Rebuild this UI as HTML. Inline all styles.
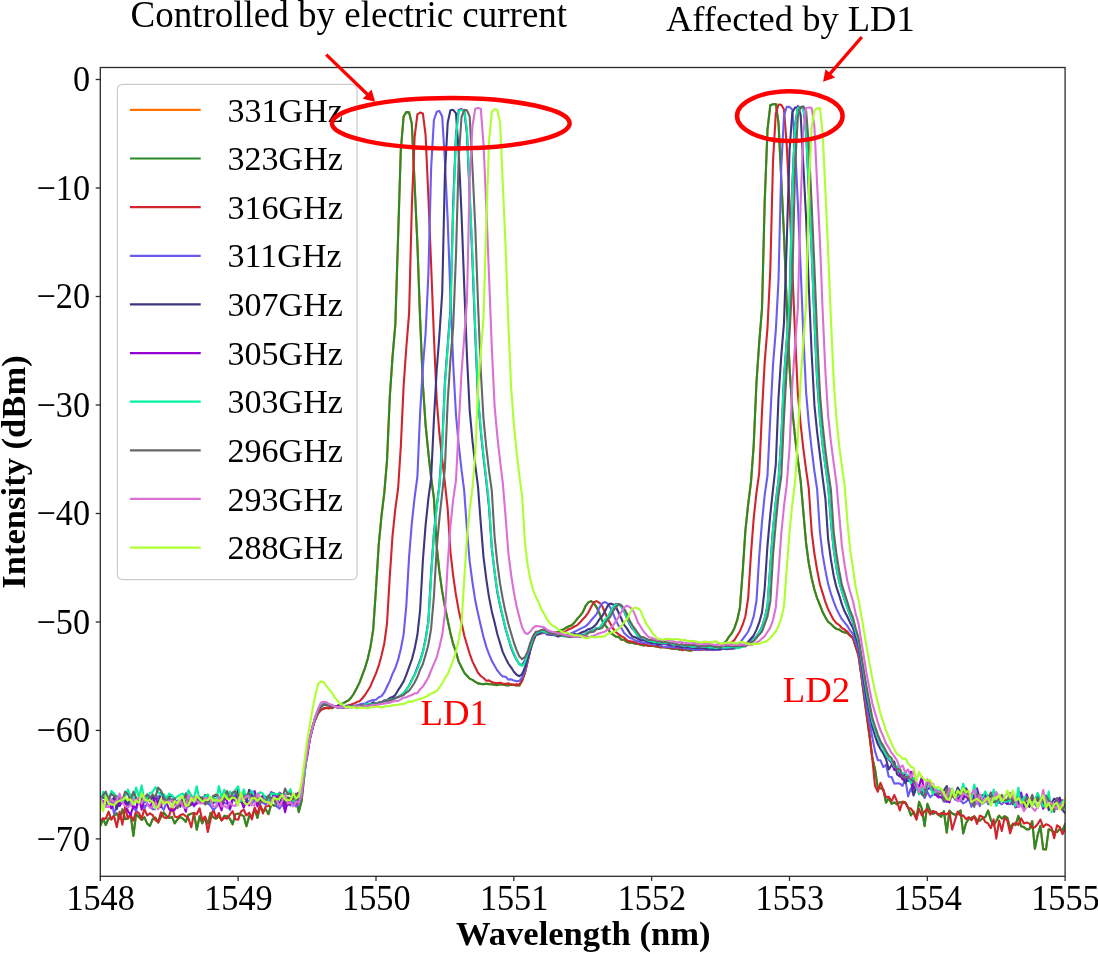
<!DOCTYPE html>
<html lang="en"><head><meta charset="utf-8"><title>Optical spectra of LD1 and LD2</title>
<style>
html,body{margin:0;padding:0;background:#fff;}
svg{display:block;font-family:"Liberation Serif","Times New Roman",serif;}
.tk{font-size:34.2px;fill:#000;}
.lg{font-size:34px;fill:#000;}
.al{font-size:34.6px;font-weight:bold;fill:#000;}
.an{font-size:37.0px;fill:#000;}
.rd{font-size:36.7px;fill:#ff0000;}
.cv{fill:none;stroke-width:2.1;stroke-linejoin:round;stroke-linecap:butt;}
</style></head><body>
<svg width="1098" height="954" viewBox="0 0 1098 954">
<rect x="0" y="0" width="1098" height="954" fill="#ffffff"/>
<defs><clipPath id="ax"><rect x="100.3" y="67.5" width="964.8" height="808.8"/></clipPath></defs>

<g clip-path="url(#ax)">
<path class="cv" stroke="#ff7200" stroke-width="1" d="M100.3,826.2 L103.1,818.8 L105.8,825.0 L108.6,818.3 L111.3,818.8 L114.1,815.4 L116.8,813.4 L119.6,818.7 L122.4,809.2 L125.1,819.2 L127.9,818.4 L130.6,814.4 L133.4,835.8 L136.1,813.8 L138.9,817.1 L141.7,819.9 L144.4,817.2 L147.2,823.6 L149.9,825.9 L152.7,819.0 L155.4,817.6 L158.2,822.6 L161.0,816.9 L163.7,812.3 L166.5,816.0 L169.2,817.9 L172.0,817.1 L174.7,823.3 L177.5,819.4 L180.3,816.8 L183.0,818.8 L185.8,821.8 L188.5,814.7 L191.3,813.8 L194.0,813.1 L196.8,829.8 L199.6,816.1 L202.3,823.3 L205.1,817.4 L207.8,823.7 L210.6,812.9 L213.3,817.2 L216.1,818.7 L218.9,816.5 L221.6,820.2 L224.4,815.9 L227.1,816.4 L229.9,818.8 L232.6,824.3 L235.4,814.3 L238.2,813.6 L240.9,814.8 L243.7,816.1 L246.4,826.3 L249.2,816.1 L251.9,816.9 L254.7,808.9 L257.4,817.9 L260.2,806.0 L263.0,811.2 L265.7,809.2 L268.5,814.2 L271.2,804.3 L274.0,805.5 L276.7,806.2 L279.5,806.6 L282.3,802.0 L285.0,808.6 L287.8,797.5 L290.5,798.2 L293.3,801.5 L296.0,798.2 L298.8,812.1 L301.6,800.9 L304.3,775.9 L307.1,752.4 L309.8,739.4 L312.6,727.2 L315.3,719.7 L318.1,713.4 L320.9,710.0 L323.6,708.4 L326.4,707.8 L329.1,707.8 L331.9,708.2 L334.6,706.8 L337.4,705.7 L340.2,704.4 L342.9,703.4 L345.7,701.8 L348.4,700.4 L351.2,697.5 L353.9,693.5 L356.7,688.2 L359.5,682.6 L362.2,675.3 L365.0,667.9 L367.7,659.0 L370.5,646.7 L373.2,629.6 L376.0,588.5 L378.8,543.8 L381.5,516.0 L384.3,492.7 L387.0,460.7 L389.8,396.7 L392.5,357.1 L395.3,324.9 L398.1,236.6 L400.8,150.3 L403.6,116.5 L406.3,112.1 L409.1,112.4 L411.8,123.6 L414.6,183.6 L417.4,243.9 L420.1,319.0 L422.9,385.0 L425.6,425.1 L428.4,453.2 L431.1,477.5 L433.9,498.0 L436.7,545.9 L439.4,571.8 L442.2,591.4 L444.9,606.8 L447.7,620.2 L450.4,632.9 L453.2,644.2 L456.0,652.0 L458.7,661.6 L461.5,667.2 L464.2,672.6 L467.0,675.7 L469.7,678.6 L472.5,679.9 L475.3,681.8 L478.0,683.4 L480.8,683.9 L483.5,684.1 L486.3,683.7 L489.0,684.1 L491.8,684.2 L494.6,684.7 L497.3,685.1 L500.1,684.2 L502.8,684.6 L505.6,685.3 L508.3,685.4 L511.1,684.4 L513.9,684.9 L516.6,685.5 L519.4,685.5 L522.1,680.8 L524.9,672.9 L527.6,661.5 L530.4,649.6 L533.1,641.3 L535.9,634.9 L538.7,634.0 L541.4,632.3 L544.2,632.0 L546.9,632.7 L549.7,632.3 L552.4,633.1 L555.2,632.4 L558.0,632.4 L560.7,630.1 L563.5,629.4 L566.2,627.7 L569.0,626.3 L571.7,625.2 L574.5,622.4 L577.3,618.8 L580.0,615.9 L582.8,612.1 L585.5,606.2 L588.3,602.4 L591.0,601.1 L593.8,603.2 L596.6,607.3 L599.3,613.0 L602.1,620.6 L604.8,624.3 L607.6,628.3 L610.3,632.8 L613.1,634.6 L615.9,636.7 L618.6,636.9 L621.4,639.7 L624.1,639.8 L626.9,642.1 L629.6,642.7 L632.4,642.8 L635.2,643.8 L637.9,643.8 L640.7,644.8 L643.4,645.4 L646.2,645.1 L648.9,646.0 L651.7,645.8 L654.5,646.3 L657.2,646.8 L660.0,647.3 L662.7,647.0 L665.5,647.5 L668.2,648.0 L671.0,648.4 L673.8,649.0 L676.5,648.5 L679.3,649.7 L682.0,648.8 L684.8,649.8 L687.5,650.3 L690.3,650.7 L693.1,649.9 L695.8,649.5 L698.6,649.3 L701.3,649.7 L704.1,649.0 L706.8,649.3 L709.6,648.6 L712.4,649.2 L715.1,649.1 L717.9,647.5 L720.6,646.5 L723.4,643.6 L726.1,641.2 L728.9,636.9 L731.7,633.4 L734.4,628.2 L737.2,620.2 L739.9,607.7 L742.7,571.5 L745.4,530.5 L748.2,504.0 L751.0,481.8 L753.7,445.3 L756.5,382.0 L759.2,342.7 L762.0,308.5 L764.7,201.5 L767.5,129.7 L770.3,105.3 L773.0,104.3 L775.8,104.0 L778.5,122.8 L781.3,179.6 L784.0,235.4 L786.8,305.9 L789.6,368.1 L792.3,410.0 L795.1,437.5 L797.8,459.4 L800.6,480.3 L803.3,511.4 L806.1,543.5 L808.8,563.4 L811.6,578.0 L814.4,589.5 L817.1,598.1 L819.9,605.0 L822.6,611.9 L825.4,617.2 L828.1,621.7 L830.9,624.0 L833.7,626.8 L836.4,628.9 L839.2,629.6 L841.9,631.5 L844.7,632.4 L847.4,632.9 L850.2,635.8 L853.0,638.3 L855.7,646.9 L858.5,655.2 L861.2,674.0 L864.0,696.2 L866.7,715.6 L869.5,736.2 L872.3,757.8 L875.0,769.0 L877.8,788.0 L880.5,788.2 L883.3,789.6 L886.0,802.6 L888.8,798.1 L891.6,803.9 L894.3,802.3 L897.1,804.4 L899.8,802.1 L902.6,802.9 L905.3,802.6 L908.1,807.3 L910.9,815.5 L913.6,811.6 L916.4,818.5 L919.1,801.9 L921.9,808.6 L924.6,826.2 L927.4,803.9 L930.2,810.8 L932.9,813.8 L935.7,812.0 L938.4,814.7 L941.2,816.8 L943.9,811.2 L946.7,832.5 L949.5,810.6 L952.2,813.5 L955.0,814.7 L957.7,813.9 L960.5,810.4 L963.2,833.4 L966.0,823.3 L968.8,818.8 L971.5,817.8 L974.3,816.4 L977.0,819.8 L979.8,820.6 L982.5,818.2 L985.3,817.1 L988.1,810.5 L990.8,819.9 L993.6,825.5 L996.3,821.0 L999.1,815.6 L1001.8,818.6 L1004.6,816.2 L1007.4,818.0 L1010.1,828.1 L1012.9,823.7 L1015.6,825.1 L1018.4,815.9 L1021.1,826.2 L1023.9,827.1 L1026.7,829.5 L1029.4,829.1 L1032.2,821.2 L1034.9,848.8 L1037.7,835.1 L1040.4,825.8 L1043.2,849.3 L1046.0,849.4 L1048.7,829.2 L1051.5,830.3 L1054.2,832.2 L1057.0,831.9 L1059.7,829.1 L1062.5,830.3 L1065.3,823.6 L1068.0,826.0"/>
<path class="cv" stroke="#2a8a2a" d="M100.3,826.2 L103.1,818.8 L105.8,825.0 L108.6,818.3 L111.3,818.8 L114.1,815.4 L116.8,813.4 L119.6,818.7 L122.4,809.2 L125.1,819.2 L127.9,818.4 L130.6,814.4 L133.4,835.8 L136.1,813.8 L138.9,817.1 L141.7,819.9 L144.4,817.2 L147.2,823.6 L149.9,825.9 L152.7,819.0 L155.4,817.6 L158.2,822.6 L161.0,816.9 L163.7,812.3 L166.5,816.0 L169.2,817.9 L172.0,817.1 L174.7,823.3 L177.5,819.4 L180.3,816.8 L183.0,818.8 L185.8,821.8 L188.5,814.7 L191.3,813.8 L194.0,813.1 L196.8,829.8 L199.6,816.1 L202.3,823.3 L205.1,817.4 L207.8,823.7 L210.6,812.9 L213.3,817.2 L216.1,818.7 L218.9,816.5 L221.6,820.2 L224.4,815.9 L227.1,816.4 L229.9,818.8 L232.6,824.3 L235.4,814.3 L238.2,813.6 L240.9,814.8 L243.7,816.1 L246.4,826.3 L249.2,816.1 L251.9,816.9 L254.7,808.9 L257.4,817.9 L260.2,806.0 L263.0,811.2 L265.7,809.2 L268.5,814.2 L271.2,804.3 L274.0,805.5 L276.7,806.2 L279.5,806.6 L282.3,802.0 L285.0,808.6 L287.8,797.5 L290.5,798.2 L293.3,801.5 L296.0,798.2 L298.8,812.1 L301.6,800.9 L304.3,775.9 L307.1,752.4 L309.8,739.4 L312.6,727.2 L315.3,719.7 L318.1,713.4 L320.9,710.0 L323.6,708.4 L326.4,707.8 L329.1,707.8 L331.9,708.2 L334.6,706.8 L337.4,705.7 L340.2,704.4 L342.9,703.4 L345.7,701.8 L348.4,700.4 L351.2,697.5 L353.9,693.5 L356.7,688.2 L359.5,682.6 L362.2,675.3 L365.0,667.9 L367.7,659.0 L370.5,646.7 L373.2,629.6 L376.0,588.5 L378.8,543.8 L381.5,516.0 L384.3,492.7 L387.0,460.7 L389.8,396.7 L392.5,357.1 L395.3,324.9 L398.1,236.6 L400.8,150.3 L403.6,116.5 L406.3,112.1 L409.1,112.4 L411.8,123.6 L414.6,183.6 L417.4,243.9 L420.1,319.0 L422.9,385.0 L425.6,425.1 L428.4,453.2 L431.1,477.5 L433.9,498.0 L436.7,545.9 L439.4,571.8 L442.2,591.4 L444.9,606.8 L447.7,620.2 L450.4,632.9 L453.2,644.2 L456.0,652.0 L458.7,661.6 L461.5,667.2 L464.2,672.6 L467.0,675.7 L469.7,678.6 L472.5,679.9 L475.3,681.8 L478.0,683.4 L480.8,683.9 L483.5,684.1 L486.3,683.7 L489.0,684.1 L491.8,684.2 L494.6,684.7 L497.3,685.1 L500.1,684.2 L502.8,684.6 L505.6,685.3 L508.3,685.4 L511.1,684.4 L513.9,684.9 L516.6,685.5 L519.4,685.5 L522.1,680.8 L524.9,672.9 L527.6,661.5 L530.4,649.6 L533.1,641.3 L535.9,634.9 L538.7,634.0 L541.4,632.3 L544.2,632.0 L546.9,632.7 L549.7,632.3 L552.4,633.1 L555.2,632.4 L558.0,632.4 L560.7,630.1 L563.5,629.4 L566.2,627.7 L569.0,626.3 L571.7,625.2 L574.5,622.4 L577.3,618.8 L580.0,615.9 L582.8,612.1 L585.5,606.2 L588.3,602.4 L591.0,601.1 L593.8,603.2 L596.6,607.3 L599.3,613.0 L602.1,620.6 L604.8,624.3 L607.6,628.3 L610.3,632.8 L613.1,634.6 L615.9,636.7 L618.6,636.9 L621.4,639.7 L624.1,639.8 L626.9,642.1 L629.6,642.7 L632.4,642.8 L635.2,643.8 L637.9,643.8 L640.7,644.8 L643.4,645.4 L646.2,645.1 L648.9,646.0 L651.7,645.8 L654.5,646.3 L657.2,646.8 L660.0,647.3 L662.7,647.0 L665.5,647.5 L668.2,648.0 L671.0,648.4 L673.8,649.0 L676.5,648.5 L679.3,649.7 L682.0,648.8 L684.8,649.8 L687.5,650.3 L690.3,650.7 L693.1,649.9 L695.8,649.5 L698.6,649.3 L701.3,649.7 L704.1,649.0 L706.8,649.3 L709.6,648.6 L712.4,649.2 L715.1,649.1 L717.9,647.5 L720.6,646.5 L723.4,643.6 L726.1,641.2 L728.9,636.9 L731.7,633.4 L734.4,628.2 L737.2,620.2 L739.9,607.7 L742.7,571.5 L745.4,530.5 L748.2,504.0 L751.0,481.8 L753.7,445.3 L756.5,382.0 L759.2,342.7 L762.0,308.5 L764.7,201.5 L767.5,129.7 L770.3,105.3 L773.0,104.3 L775.8,104.0 L778.5,122.8 L781.3,179.6 L784.0,235.4 L786.8,305.9 L789.6,368.1 L792.3,410.0 L795.1,437.5 L797.8,459.4 L800.6,480.3 L803.3,511.4 L806.1,543.5 L808.8,563.4 L811.6,578.0 L814.4,589.5 L817.1,598.1 L819.9,605.0 L822.6,611.9 L825.4,617.2 L828.1,621.7 L830.9,624.0 L833.7,626.8 L836.4,628.9 L839.2,629.6 L841.9,631.5 L844.7,632.4 L847.4,632.9 L850.2,635.8 L853.0,638.3 L855.7,646.9 L858.5,655.2 L861.2,674.0 L864.0,696.2 L866.7,715.6 L869.5,736.2 L872.3,757.8 L875.0,769.0 L877.8,788.0 L880.5,788.2 L883.3,789.6 L886.0,802.6 L888.8,798.1 L891.6,803.9 L894.3,802.3 L897.1,804.4 L899.8,802.1 L902.6,802.9 L905.3,802.6 L908.1,807.3 L910.9,815.5 L913.6,811.6 L916.4,818.5 L919.1,801.9 L921.9,808.6 L924.6,826.2 L927.4,803.9 L930.2,810.8 L932.9,813.8 L935.7,812.0 L938.4,814.7 L941.2,816.8 L943.9,811.2 L946.7,832.5 L949.5,810.6 L952.2,813.5 L955.0,814.7 L957.7,813.9 L960.5,810.4 L963.2,833.4 L966.0,823.3 L968.8,818.8 L971.5,817.8 L974.3,816.4 L977.0,819.8 L979.8,820.6 L982.5,818.2 L985.3,817.1 L988.1,810.5 L990.8,819.9 L993.6,825.5 L996.3,821.0 L999.1,815.6 L1001.8,818.6 L1004.6,816.2 L1007.4,818.0 L1010.1,828.1 L1012.9,823.7 L1015.6,825.1 L1018.4,815.9 L1021.1,826.2 L1023.9,827.1 L1026.7,829.5 L1029.4,829.1 L1032.2,821.2 L1034.9,848.8 L1037.7,835.1 L1040.4,825.8 L1043.2,849.3 L1046.0,849.4 L1048.7,829.2 L1051.5,830.3 L1054.2,832.2 L1057.0,831.9 L1059.7,829.1 L1062.5,830.3 L1065.3,823.6 L1068.0,826.0"/>
<path class="cv" stroke="#d2242c" d="M100.3,821.0 L103.1,818.3 L105.8,818.8 L108.6,811.7 L111.3,819.7 L114.1,816.2 L116.8,827.3 L119.6,811.7 L122.4,824.6 L125.1,806.9 L127.9,818.5 L130.6,814.9 L133.4,820.6 L136.1,811.0 L138.9,813.0 L141.7,818.8 L144.4,808.8 L147.2,815.5 L149.9,813.3 L152.7,815.2 L155.4,820.2 L158.2,822.0 L161.0,812.3 L163.7,817.3 L166.5,818.2 L169.2,815.6 L172.0,806.0 L174.7,816.5 L177.5,817.6 L180.3,815.1 L183.0,814.0 L185.8,816.1 L188.5,818.6 L191.3,827.3 L194.0,812.9 L196.8,814.3 L199.6,808.3 L202.3,820.2 L205.1,816.5 L207.8,831.9 L210.6,819.2 L213.3,809.3 L216.1,817.9 L218.9,812.9 L221.6,820.6 L224.4,817.5 L227.1,818.7 L229.9,814.6 L232.6,811.2 L235.4,819.2 L238.2,819.7 L240.9,811.7 L243.7,809.5 L246.4,815.5 L249.2,812.7 L251.9,819.4 L254.7,807.6 L257.4,814.1 L260.2,804.7 L263.0,813.5 L265.7,806.4 L268.5,806.0 L271.2,804.6 L274.0,796.5 L276.7,797.7 L279.5,798.1 L282.3,800.1 L285.0,806.5 L287.8,799.5 L290.5,799.7 L293.3,803.2 L296.0,804.7 L298.8,801.3 L301.6,791.8 L304.3,770.7 L307.1,754.7 L309.8,739.0 L312.6,727.0 L315.3,719.2 L318.1,712.7 L320.9,709.8 L323.6,708.6 L326.4,708.0 L329.1,708.5 L331.9,707.3 L334.6,706.9 L337.4,706.7 L340.2,706.6 L342.9,705.6 L345.7,706.4 L348.4,705.3 L351.2,704.6 L353.9,703.6 L356.7,702.1 L359.5,701.2 L362.2,698.5 L365.0,695.0 L367.7,690.7 L370.5,686.2 L373.2,679.7 L376.0,673.4 L378.8,665.4 L381.5,655.4 L384.3,643.5 L387.0,623.5 L389.8,576.1 L392.5,536.2 L395.3,509.2 L398.1,488.5 L400.8,446.7 L403.6,386.4 L406.3,347.8 L409.1,313.3 L411.8,207.7 L414.6,137.2 L417.4,114.3 L420.1,112.5 L422.9,113.6 L425.6,135.2 L428.4,197.5 L431.1,264.2 L433.9,336.3 L436.7,400.0 L439.4,433.3 L442.2,459.1 L444.9,483.0 L447.7,508.8 L450.4,551.6 L453.2,576.0 L456.0,595.3 L458.7,610.4 L461.5,622.7 L464.2,635.3 L467.0,645.0 L469.7,653.8 L472.5,661.6 L475.3,667.3 L478.0,672.8 L480.8,676.0 L483.5,678.0 L486.3,680.7 L489.0,680.4 L491.8,682.1 L494.6,683.1 L497.3,683.1 L500.1,682.8 L502.8,683.5 L505.6,684.1 L508.3,683.3 L511.1,684.8 L513.9,684.9 L516.6,684.4 L519.4,684.6 L522.1,680.2 L524.9,672.5 L527.6,661.2 L530.4,649.8 L533.1,640.3 L535.9,634.7 L538.7,634.1 L541.4,633.5 L544.2,632.4 L546.9,633.7 L549.7,634.8 L552.4,634.3 L555.2,634.1 L558.0,633.8 L560.7,633.8 L563.5,632.4 L566.2,630.9 L569.0,629.2 L571.7,628.2 L574.5,626.5 L577.3,625.1 L580.0,622.6 L582.8,619.2 L585.5,616.4 L588.3,612.6 L591.0,607.3 L593.8,602.3 L596.6,601.1 L599.3,602.6 L602.1,605.9 L604.8,612.2 L607.6,618.7 L610.3,623.5 L613.1,628.5 L615.9,632.1 L618.6,634.3 L621.4,636.2 L624.1,637.6 L626.9,640.2 L629.6,641.4 L632.4,641.6 L635.2,642.4 L637.9,643.7 L640.7,643.9 L643.4,644.0 L646.2,644.7 L648.9,646.0 L651.7,645.2 L654.5,645.5 L657.2,645.9 L660.0,647.3 L662.7,647.1 L665.5,647.1 L668.2,647.1 L671.0,647.8 L673.8,648.6 L676.5,648.2 L679.3,647.9 L682.0,650.3 L684.8,649.3 L687.5,649.0 L690.3,649.8 L693.1,649.8 L695.8,649.5 L698.6,649.8 L701.3,649.6 L704.1,649.1 L706.8,650.0 L709.6,650.0 L712.4,649.9 L715.1,649.6 L717.9,649.0 L720.6,649.0 L723.4,648.1 L726.1,646.6 L728.9,645.2 L731.7,642.1 L734.4,640.1 L737.2,635.5 L739.9,631.2 L742.7,624.7 L745.4,616.2 L748.2,597.8 L751.0,553.5 L753.7,518.4 L756.5,492.4 L759.2,473.2 L762.0,411.6 L764.7,362.0 L767.5,327.7 L770.3,269.9 L773.0,161.6 L775.8,113.6 L778.5,104.5 L781.3,104.7 L784.0,109.4 L786.8,146.4 L789.6,203.1 L792.3,268.8 L795.1,335.2 L797.8,393.1 L800.6,424.0 L803.3,448.3 L806.1,469.9 L808.8,488.6 L811.6,531.0 L814.4,553.8 L817.1,569.7 L819.9,584.2 L822.6,592.9 L825.4,602.2 L828.1,609.1 L830.9,614.7 L833.7,619.9 L836.4,623.1 L839.2,625.0 L841.9,628.0 L844.7,629.7 L847.4,631.6 L850.2,635.4 L853.0,637.6 L855.7,646.3 L858.5,655.5 L861.2,674.0 L864.0,693.7 L866.7,714.1 L869.5,734.1 L872.3,758.1 L875.0,785.9 L877.8,791.7 L880.5,782.8 L883.3,790.1 L886.0,797.2 L888.8,796.9 L891.6,801.2 L894.3,795.0 L897.1,801.5 L899.8,810.4 L902.6,801.6 L905.3,802.5 L908.1,807.9 L910.9,808.6 L913.6,812.4 L916.4,819.7 L919.1,808.9 L921.9,815.6 L924.6,811.3 L927.4,809.1 L930.2,814.5 L932.9,811.0 L935.7,812.1 L938.4,814.8 L941.2,813.1 L943.9,813.4 L946.7,814.5 L949.5,811.8 L952.2,829.7 L955.0,820.3 L957.7,811.6 L960.5,815.7 L963.2,815.4 L966.0,819.1 L968.8,817.1 L971.5,820.2 L974.3,816.4 L977.0,824.0 L979.8,815.6 L982.5,816.7 L985.3,821.9 L988.1,823.5 L990.8,828.2 L993.6,819.4 L996.3,838.6 L999.1,820.6 L1001.8,831.0 L1004.6,817.6 L1007.4,820.8 L1010.1,833.3 L1012.9,824.7 L1015.6,822.9 L1018.4,824.8 L1021.1,818.3 L1023.9,823.5 L1026.7,822.5 L1029.4,823.6 L1032.2,827.9 L1034.9,827.2 L1037.7,824.0 L1040.4,819.5 L1043.2,827.1 L1046.0,824.2 L1048.7,825.2 L1051.5,827.5 L1054.2,838.2 L1057.0,825.4 L1059.7,827.0 L1062.5,834.2 L1065.3,828.5 L1068.0,833.5"/>
<path class="cv" stroke="#6a5cf0" d="M100.3,798.6 L103.1,802.9 L105.8,805.6 L108.6,802.3 L111.3,799.3 L114.1,814.0 L116.8,805.8 L119.6,805.8 L122.4,799.7 L125.1,801.2 L127.9,806.4 L130.6,803.3 L133.4,808.0 L136.1,810.7 L138.9,798.6 L141.7,797.8 L144.4,808.3 L147.2,803.5 L149.9,806.6 L152.7,809.3 L155.4,809.1 L158.2,796.0 L161.0,806.2 L163.7,810.0 L166.5,802.6 L169.2,799.9 L172.0,799.3 L174.7,804.3 L177.5,800.7 L180.3,802.6 L183.0,798.1 L185.8,804.4 L188.5,799.0 L191.3,795.1 L194.0,806.5 L196.8,799.8 L199.6,801.1 L202.3,803.1 L205.1,801.8 L207.8,803.5 L210.6,805.6 L213.3,810.0 L216.1,807.2 L218.9,803.9 L221.6,799.1 L224.4,803.0 L227.1,803.6 L229.9,809.9 L232.6,800.8 L235.4,793.4 L238.2,799.8 L240.9,800.1 L243.7,792.8 L246.4,800.5 L249.2,801.0 L251.9,803.4 L254.7,800.2 L257.4,804.2 L260.2,797.7 L263.0,802.9 L265.7,804.7 L268.5,800.8 L271.2,798.1 L274.0,799.0 L276.7,806.4 L279.5,808.6 L282.3,804.3 L285.0,809.3 L287.8,802.1 L290.5,805.6 L293.3,801.6 L296.0,806.4 L298.8,804.1 L301.6,795.1 L304.3,773.5 L307.1,756.8 L309.8,739.5 L312.6,727.9 L315.3,717.6 L318.1,710.2 L320.9,706.7 L323.6,704.7 L326.4,705.0 L329.1,704.8 L331.9,704.8 L334.6,706.9 L337.4,706.7 L340.2,705.9 L342.9,706.3 L345.7,705.7 L348.4,705.8 L351.2,706.4 L353.9,706.3 L356.7,705.0 L359.5,704.6 L362.2,703.7 L365.0,703.7 L367.7,701.9 L370.5,700.7 L373.2,700.0 L376.0,699.7 L378.8,697.2 L381.5,696.1 L384.3,692.4 L387.0,686.7 L389.8,680.9 L392.5,673.9 L395.3,668.0 L398.1,659.9 L400.8,649.0 L403.6,634.6 L406.3,605.6 L409.1,556.6 L411.8,523.3 L414.6,497.6 L417.4,476.6 L420.1,413.0 L422.9,366.8 L425.6,333.3 L428.4,273.7 L431.1,168.9 L433.9,120.0 L436.7,111.8 L439.4,110.9 L442.2,116.4 L444.9,160.7 L447.7,220.4 L450.4,294.3 L453.2,363.8 L456.0,415.2 L458.7,444.7 L461.5,469.6 L464.2,490.6 L467.0,530.5 L469.7,561.7 L472.5,582.6 L475.3,600.8 L478.0,613.5 L480.8,625.7 L483.5,637.0 L486.3,646.9 L489.0,654.1 L491.8,660.9 L494.6,665.7 L497.3,670.4 L500.1,673.9 L502.8,676.4 L505.6,676.7 L508.3,679.6 L511.1,679.3 L513.9,680.6 L516.6,681.2 L519.4,680.8 L522.1,677.5 L524.9,670.5 L527.6,660.3 L530.4,649.3 L533.1,639.3 L535.9,634.4 L538.7,634.0 L541.4,632.8 L544.2,631.7 L546.9,634.6 L549.7,634.7 L552.4,634.7 L555.2,635.5 L558.0,635.2 L560.7,635.6 L563.5,635.3 L566.2,635.4 L569.0,634.7 L571.7,632.9 L574.5,631.8 L577.3,630.4 L580.0,628.9 L582.8,627.6 L585.5,626.4 L588.3,623.9 L591.0,620.5 L593.8,617.3 L596.6,614.1 L599.3,607.9 L602.1,603.4 L604.8,602.0 L607.6,603.4 L610.3,607.6 L613.1,613.6 L615.9,620.4 L618.6,625.8 L621.4,628.1 L624.1,632.9 L626.9,635.6 L629.6,637.8 L632.4,638.7 L635.2,640.4 L637.9,641.3 L640.7,642.4 L643.4,642.5 L646.2,642.7 L648.9,643.7 L651.7,643.8 L654.5,644.8 L657.2,644.3 L660.0,645.2 L662.7,646.5 L665.5,647.0 L668.2,646.7 L671.0,646.8 L673.8,647.4 L676.5,647.5 L679.3,647.4 L682.0,648.2 L684.8,648.1 L687.5,649.1 L690.3,648.4 L693.1,649.6 L695.8,649.0 L698.6,650.2 L701.3,648.8 L704.1,649.1 L706.8,649.8 L709.6,649.3 L712.4,650.2 L715.1,649.4 L717.9,649.9 L720.6,649.6 L723.4,648.7 L726.1,649.3 L728.9,648.9 L731.7,647.5 L734.4,646.8 L737.2,644.8 L739.9,642.9 L742.7,639.1 L745.4,635.5 L748.2,631.5 L751.0,624.8 L753.7,616.4 L756.5,600.7 L759.2,556.8 L762.0,521.8 L764.7,495.1 L767.5,475.5 L770.3,417.1 L773.0,364.9 L775.8,330.7 L778.5,280.5 L781.3,166.2 L784.0,115.8 L786.8,106.8 L789.6,106.9 L792.3,109.4 L795.1,145.3 L797.8,202.4 L800.6,266.6 L803.3,334.1 L806.1,392.4 L808.8,423.3 L811.6,448.7 L814.4,471.0 L817.1,489.0 L819.9,531.6 L822.6,554.4 L825.4,570.4 L828.1,583.8 L830.9,593.7 L833.7,601.7 L836.4,608.6 L839.2,614.2 L841.9,619.2 L844.7,622.6 L847.4,626.0 L850.2,630.6 L853.0,634.0 L855.7,642.5 L858.5,650.8 L861.2,668.8 L864.0,688.9 L866.7,707.0 L869.5,722.7 L872.3,737.2 L875.0,751.1 L877.8,760.1 L880.5,760.3 L883.3,767.1 L886.0,764.8 L888.8,776.8 L891.6,777.0 L894.3,783.6 L897.1,783.2 L899.8,783.6 L902.6,785.9 L905.3,778.3 L908.1,796.4 L910.9,788.3 L913.6,794.4 L916.4,786.9 L919.1,792.8 L921.9,791.3 L924.6,798.0 L927.4,791.9 L930.2,797.2 L932.9,794.5 L935.7,794.6 L938.4,797.6 L941.2,796.4 L943.9,801.4 L946.7,802.0 L949.5,799.4 L952.2,793.3 L955.0,799.7 L957.7,800.2 L960.5,800.5 L963.2,803.4 L966.0,801.8 L968.8,798.8 L971.5,806.8 L974.3,795.7 L977.0,796.9 L979.8,806.2 L982.5,797.1 L985.3,794.2 L988.1,804.1 L990.8,803.8 L993.6,798.4 L996.3,802.8 L999.1,802.4 L1001.8,804.4 L1004.6,801.3 L1007.4,804.0 L1010.1,804.2 L1012.9,802.1 L1015.6,806.8 L1018.4,800.6 L1021.1,801.9 L1023.9,808.7 L1026.7,804.0 L1029.4,803.9 L1032.2,802.2 L1034.9,804.2 L1037.7,807.9 L1040.4,800.2 L1043.2,804.3 L1046.0,804.1 L1048.7,801.8 L1051.5,803.6 L1054.2,806.1 L1057.0,808.9 L1059.7,799.5 L1062.5,800.9 L1065.3,799.9 L1068.0,804.5"/>
<path class="cv" stroke="#3d3780" d="M100.3,798.2 L103.1,797.7 L105.8,797.4 L108.6,804.0 L111.3,802.4 L114.1,797.2 L116.8,809.3 L119.6,799.1 L122.4,798.6 L125.1,800.2 L127.9,804.2 L130.6,797.6 L133.4,793.3 L136.1,798.4 L138.9,803.0 L141.7,799.3 L144.4,802.0 L147.2,797.1 L149.9,801.4 L152.7,796.4 L155.4,804.1 L158.2,805.3 L161.0,792.8 L163.7,797.7 L166.5,796.9 L169.2,796.9 L172.0,795.5 L174.7,799.9 L177.5,804.9 L180.3,806.6 L183.0,798.9 L185.8,800.9 L188.5,806.3 L191.3,804.6 L194.0,797.3 L196.8,798.6 L199.6,802.8 L202.3,801.4 L205.1,795.0 L207.8,796.2 L210.6,803.5 L213.3,796.3 L216.1,796.3 L218.9,798.8 L221.6,798.0 L224.4,795.5 L227.1,796.8 L229.9,798.3 L232.6,796.2 L235.4,801.0 L238.2,789.5 L240.9,801.5 L243.7,803.1 L246.4,801.6 L249.2,789.7 L251.9,796.2 L254.7,799.3 L257.4,803.2 L260.2,799.9 L263.0,798.8 L265.7,796.7 L268.5,799.9 L271.2,800.3 L274.0,793.3 L276.7,797.0 L279.5,805.3 L282.3,795.4 L285.0,803.0 L287.8,805.0 L290.5,802.1 L293.3,796.6 L296.0,802.4 L298.8,797.9 L301.6,792.4 L304.3,769.3 L307.1,753.2 L309.8,738.0 L312.6,726.8 L315.3,717.4 L318.1,711.2 L320.9,706.0 L323.6,705.1 L326.4,704.6 L329.1,705.1 L331.9,705.5 L334.6,706.7 L337.4,706.4 L340.2,707.1 L342.9,707.0 L345.7,707.2 L348.4,707.4 L351.2,706.2 L353.9,706.8 L356.7,706.4 L359.5,706.1 L362.2,705.7 L365.0,705.2 L367.7,705.6 L370.5,704.2 L373.2,702.3 L376.0,703.3 L378.8,702.6 L381.5,702.1 L384.3,700.5 L387.0,700.1 L389.8,698.1 L392.5,697.1 L395.3,695.0 L398.1,690.2 L400.8,686.1 L403.6,681.4 L406.3,674.9 L409.1,667.1 L411.8,659.7 L414.6,649.1 L417.4,634.8 L420.1,610.3 L422.9,560.3 L425.6,525.1 L428.4,498.4 L431.1,478.6 L433.9,420.1 L436.7,370.3 L439.4,335.3 L442.2,293.0 L444.9,174.3 L447.7,122.7 L450.4,110.2 L453.2,109.8 L456.0,113.4 L458.7,152.1 L461.5,213.2 L464.2,285.4 L467.0,357.0 L469.7,410.4 L472.5,441.2 L475.3,465.2 L478.0,486.7 L480.8,523.7 L483.5,556.9 L486.3,579.2 L489.0,597.1 L491.8,611.4 L494.6,622.5 L497.3,634.0 L500.1,643.2 L502.8,652.1 L505.6,658.1 L508.3,663.5 L511.1,667.4 L513.9,671.7 L516.6,674.7 L519.4,676.2 L522.1,674.2 L524.9,667.3 L527.6,658.3 L530.4,648.2 L533.1,639.0 L535.9,634.0 L538.7,633.5 L541.4,631.9 L544.2,630.5 L546.9,633.1 L549.7,634.2 L552.4,634.6 L555.2,635.3 L558.0,636.6 L560.7,635.7 L563.5,635.8 L566.2,636.1 L569.0,635.3 L571.7,635.2 L574.5,633.9 L577.3,634.6 L580.0,633.2 L582.8,632.0 L585.5,630.9 L588.3,629.2 L591.0,628.6 L593.8,626.7 L596.6,623.7 L599.3,619.4 L602.1,616.2 L604.8,611.7 L607.6,605.9 L610.3,603.5 L613.1,604.4 L615.9,606.8 L618.6,612.8 L621.4,618.8 L624.1,624.8 L626.9,628.4 L629.6,632.9 L632.4,636.5 L635.2,637.3 L637.9,638.7 L640.7,640.4 L643.4,640.0 L646.2,641.1 L648.9,642.1 L651.7,643.3 L654.5,642.4 L657.2,644.7 L660.0,643.9 L662.7,643.5 L665.5,644.3 L668.2,644.8 L671.0,645.3 L673.8,645.3 L676.5,646.4 L679.3,646.4 L682.0,647.4 L684.8,646.9 L687.5,647.3 L690.3,647.5 L693.1,648.0 L695.8,648.3 L698.6,648.3 L701.3,647.4 L704.1,648.9 L706.8,648.3 L709.6,648.7 L712.4,648.6 L715.1,649.1 L717.9,648.8 L720.6,649.1 L723.4,648.2 L726.1,648.8 L728.9,648.7 L731.7,648.8 L734.4,648.4 L737.2,647.7 L739.9,647.2 L742.7,645.7 L745.4,644.2 L748.2,641.7 L751.0,638.5 L753.7,635.4 L756.5,629.6 L759.2,622.7 L762.0,612.4 L764.7,588.6 L767.5,545.3 L770.3,514.6 L773.0,489.3 L775.8,464.5 L778.5,397.8 L781.3,355.4 L784.0,322.8 L786.8,241.0 L789.6,149.4 L792.3,112.5 L795.1,107.5 L797.8,107.3 L800.6,114.1 L803.3,164.2 L806.1,218.0 L808.8,286.8 L811.6,352.2 L814.4,404.9 L817.1,431.9 L819.9,454.6 L822.6,477.4 L825.4,498.5 L828.1,538.8 L830.9,559.5 L833.7,575.8 L836.4,587.2 L839.2,595.3 L841.9,604.4 L844.7,611.6 L847.4,616.8 L850.2,622.9 L853.0,628.1 L855.7,636.8 L858.5,645.4 L861.2,662.2 L864.0,680.9 L866.7,698.5 L869.5,713.1 L872.3,726.9 L875.0,735.8 L877.8,744.1 L880.5,749.2 L883.3,753.5 L886.0,759.0 L888.8,769.4 L891.6,765.2 L894.3,761.6 L897.1,774.5 L899.8,776.4 L902.6,775.8 L905.3,783.2 L908.1,776.4 L910.9,780.0 L913.6,795.5 L916.4,786.7 L919.1,792.1 L921.9,792.2 L924.6,794.9 L927.4,781.6 L930.2,784.1 L932.9,789.9 L935.7,789.5 L938.4,794.0 L941.2,792.9 L943.9,790.5 L946.7,786.0 L949.5,794.0 L952.2,796.6 L955.0,795.6 L957.7,787.6 L960.5,792.4 L963.2,799.6 L966.0,788.2 L968.8,794.3 L971.5,800.1 L974.3,794.8 L977.0,790.9 L979.8,798.2 L982.5,795.0 L985.3,795.6 L988.1,795.8 L990.8,803.6 L993.6,795.8 L996.3,804.6 L999.1,800.8 L1001.8,800.2 L1004.6,799.2 L1007.4,800.9 L1010.1,799.3 L1012.9,804.2 L1015.6,800.1 L1018.4,806.8 L1021.1,804.8 L1023.9,802.6 L1026.7,802.6 L1029.4,806.9 L1032.2,801.3 L1034.9,802.1 L1037.7,793.5 L1040.4,802.8 L1043.2,803.2 L1046.0,795.8 L1048.7,810.1 L1051.5,803.3 L1054.2,798.6 L1057.0,800.5 L1059.7,797.6 L1062.5,810.1 L1065.3,813.3 L1068.0,804.6"/>
<path class="cv" stroke="#9400d3" d="M100.3,802.9 L103.1,801.4 L105.8,800.9 L108.6,804.2 L111.3,808.3 L114.1,803.4 L116.8,797.3 L119.6,805.9 L122.4,801.5 L125.1,803.0 L127.9,811.2 L130.6,814.9 L133.4,806.1 L136.1,807.8 L138.9,797.6 L141.7,809.7 L144.4,798.1 L147.2,804.2 L149.9,806.5 L152.7,802.1 L155.4,796.6 L158.2,804.6 L161.0,807.1 L163.7,795.8 L166.5,802.8 L169.2,809.3 L172.0,810.9 L174.7,809.7 L177.5,805.6 L180.3,805.7 L183.0,803.4 L185.8,811.7 L188.5,797.1 L191.3,803.2 L194.0,805.3 L196.8,803.6 L199.6,796.7 L202.3,803.0 L205.1,802.9 L207.8,798.6 L210.6,800.7 L213.3,803.5 L216.1,799.1 L218.9,803.1 L221.6,810.3 L224.4,797.2 L227.1,801.1 L229.9,808.4 L232.6,797.6 L235.4,798.0 L238.2,802.6 L240.9,799.9 L243.7,807.6 L246.4,801.9 L249.2,805.4 L251.9,794.8 L254.7,791.1 L257.4,806.4 L260.2,798.5 L263.0,795.6 L265.7,802.3 L268.5,797.6 L271.2,792.1 L274.0,793.6 L276.7,799.5 L279.5,792.7 L282.3,794.9 L285.0,812.2 L287.8,800.9 L290.5,803.7 L293.3,804.7 L296.0,794.5 L298.8,792.5 L301.6,796.6 L304.3,766.3 L307.1,756.1 L309.8,738.8 L312.6,727.8 L315.3,717.3 L318.1,711.6 L320.9,706.3 L323.6,704.0 L326.4,705.1 L329.1,705.2 L331.9,705.7 L334.6,706.8 L337.4,706.0 L340.2,707.3 L342.9,707.5 L345.7,707.5 L348.4,706.4 L351.2,707.3 L353.9,707.0 L356.7,706.1 L359.5,706.0 L362.2,705.8 L365.0,705.4 L367.7,704.8 L370.5,704.3 L373.2,703.9 L376.0,703.5 L378.8,702.9 L381.5,702.2 L384.3,701.6 L387.0,700.6 L389.8,700.2 L392.5,699.2 L395.3,697.7 L398.1,697.2 L400.8,695.4 L403.6,693.3 L406.3,689.5 L409.1,685.5 L411.8,680.0 L414.6,674.7 L417.4,667.5 L420.1,660.5 L422.9,651.5 L425.6,639.0 L428.4,621.0 L431.1,573.6 L433.9,533.4 L436.7,506.2 L439.4,484.8 L442.2,444.3 L444.9,382.4 L447.7,345.1 L450.4,310.3 L453.2,203.3 L456.0,134.0 L458.7,110.0 L461.5,109.0 L464.2,110.8 L467.0,134.2 L469.7,196.4 L472.5,262.0 L475.3,335.6 L478.0,399.0 L480.8,431.5 L483.5,457.4 L486.3,481.3 L489.0,506.7 L491.8,548.1 L494.6,572.1 L497.3,592.0 L500.1,606.1 L502.8,617.3 L505.6,628.9 L508.3,638.1 L511.1,647.6 L513.9,654.6 L516.6,659.8 L519.4,664.3 L522.1,665.1 L524.9,660.6 L527.6,654.7 L530.4,645.0 L533.1,637.0 L535.9,633.6 L538.7,632.0 L541.4,630.4 L544.2,630.1 L546.9,633.5 L549.7,633.8 L552.4,634.7 L555.2,634.8 L558.0,634.3 L560.7,635.7 L563.5,634.6 L566.2,635.6 L569.0,636.2 L571.7,636.4 L574.5,636.7 L577.3,636.0 L580.0,635.0 L582.8,635.8 L585.5,633.2 L588.3,632.2 L591.0,631.0 L593.8,630.0 L596.6,628.1 L599.3,628.5 L602.1,624.4 L604.8,620.2 L607.6,617.8 L610.3,612.4 L613.1,607.7 L615.9,603.9 L618.6,604.2 L621.4,606.8 L624.1,611.3 L626.9,618.2 L629.6,624.0 L632.4,628.7 L635.2,631.6 L637.9,636.2 L640.7,638.0 L643.4,638.8 L646.2,639.7 L648.9,640.3 L651.7,641.4 L654.5,641.4 L657.2,641.9 L660.0,642.6 L662.7,643.2 L665.5,643.5 L668.2,643.7 L671.0,644.8 L673.8,644.6 L676.5,644.7 L679.3,645.5 L682.0,645.7 L684.8,645.9 L687.5,646.2 L690.3,646.5 L693.1,646.5 L695.8,646.3 L698.6,647.0 L701.3,647.4 L704.1,646.5 L706.8,646.6 L709.6,647.3 L712.4,646.9 L715.1,646.2 L717.9,647.5 L720.6,647.6 L723.4,648.2 L726.1,647.1 L728.9,648.0 L731.7,647.8 L734.4,647.6 L737.2,647.5 L739.9,646.9 L742.7,646.2 L745.4,645.8 L748.2,644.3 L751.0,641.5 L753.7,638.5 L756.5,636.2 L759.2,632.3 L762.0,626.7 L764.7,618.2 L767.5,605.8 L770.3,565.4 L773.0,528.6 L775.8,501.7 L778.5,479.8 L781.3,437.2 L784.0,377.3 L786.8,339.7 L789.6,302.8 L792.3,185.4 L795.1,126.2 L797.8,106.3 L800.6,107.4 L803.3,108.0 L806.1,131.8 L808.8,191.0 L811.6,250.7 L814.4,320.5 L817.1,380.7 L819.9,417.7 L822.6,445.2 L825.4,466.0 L828.1,485.0 L830.9,521.3 L833.7,549.6 L836.4,567.7 L839.2,581.5 L841.9,591.3 L844.7,600.2 L847.4,607.6 L850.2,615.9 L853.0,622.6 L855.7,632.0 L858.5,641.1 L861.2,658.2 L864.0,675.7 L866.7,691.5 L869.5,707.7 L872.3,721.0 L875.0,730.3 L877.8,738.9 L880.5,744.3 L883.3,748.1 L886.0,754.4 L888.8,759.6 L891.6,762.9 L894.3,770.0 L897.1,766.8 L899.8,774.2 L902.6,779.5 L905.3,771.0 L908.1,781.1 L910.9,771.8 L913.6,788.8 L916.4,784.3 L919.1,786.3 L921.9,776.7 L924.6,794.9 L927.4,789.1 L930.2,788.0 L932.9,792.2 L935.7,794.9 L938.4,796.3 L941.2,797.6 L943.9,796.4 L946.7,800.8 L949.5,802.3 L952.2,791.9 L955.0,796.1 L957.7,799.6 L960.5,795.0 L963.2,796.7 L966.0,796.8 L968.8,799.4 L971.5,794.8 L974.3,803.3 L977.0,788.4 L979.8,799.2 L982.5,800.3 L985.3,792.4 L988.1,799.2 L990.8,795.7 L993.6,793.7 L996.3,794.4 L999.1,796.1 L1001.8,799.9 L1004.6,802.0 L1007.4,803.9 L1010.1,797.0 L1012.9,796.4 L1015.6,807.5 L1018.4,805.5 L1021.1,792.5 L1023.9,806.4 L1026.7,794.3 L1029.4,802.5 L1032.2,798.8 L1034.9,802.0 L1037.7,800.6 L1040.4,799.6 L1043.2,808.7 L1046.0,802.7 L1048.7,805.2 L1051.5,809.5 L1054.2,804.0 L1057.0,798.3 L1059.7,800.7 L1062.5,800.6 L1065.3,804.9 L1068.0,802.0"/>
<path class="cv" stroke="#00f29c" d="M100.3,805.3 L103.1,791.7 L105.8,797.9 L108.6,798.9 L111.3,791.0 L114.1,793.4 L116.8,797.1 L119.6,796.8 L122.4,802.8 L125.1,796.3 L127.9,789.7 L130.6,795.7 L133.4,802.7 L136.1,787.5 L138.9,797.3 L141.7,785.5 L144.4,801.1 L147.2,797.7 L149.9,793.0 L152.7,792.0 L155.4,787.2 L158.2,792.0 L161.0,794.9 L163.7,794.0 L166.5,798.6 L169.2,793.7 L172.0,795.7 L174.7,799.4 L177.5,796.4 L180.3,794.5 L183.0,793.6 L185.8,799.5 L188.5,790.3 L191.3,796.4 L194.0,797.4 L196.8,786.3 L199.6,801.1 L202.3,797.5 L205.1,796.5 L207.8,794.3 L210.6,802.9 L213.3,796.8 L216.1,803.1 L218.9,786.0 L221.6,797.6 L224.4,789.7 L227.1,798.7 L229.9,791.6 L232.6,794.6 L235.4,790.0 L238.2,786.4 L240.9,800.9 L243.7,789.4 L246.4,797.5 L249.2,794.2 L251.9,791.0 L254.7,796.8 L257.4,794.7 L260.2,792.2 L263.0,793.7 L265.7,799.0 L268.5,800.4 L271.2,793.3 L274.0,793.8 L276.7,794.3 L279.5,793.4 L282.3,797.8 L285.0,794.0 L287.8,794.2 L290.5,789.2 L293.3,801.5 L296.0,797.0 L298.8,797.7 L301.6,789.4 L304.3,774.1 L307.1,750.7 L309.8,737.6 L312.6,726.5 L315.3,717.7 L318.1,710.5 L320.9,706.0 L323.6,704.1 L326.4,704.4 L329.1,704.6 L331.9,705.7 L334.6,706.4 L337.4,707.2 L340.2,707.3 L342.9,706.7 L345.7,707.0 L348.4,706.4 L351.2,706.8 L353.9,706.4 L356.7,706.6 L359.5,705.7 L362.2,706.2 L365.0,704.5 L367.7,704.0 L370.5,704.4 L373.2,704.3 L376.0,703.2 L378.8,702.7 L381.5,703.0 L384.3,701.3 L387.0,700.6 L389.8,699.7 L392.5,699.2 L395.3,698.7 L398.1,697.0 L400.8,695.1 L403.6,693.2 L406.3,690.1 L409.1,685.4 L411.8,680.5 L414.6,674.8 L417.4,668.9 L420.1,661.6 L422.9,651.9 L425.6,640.2 L428.4,621.9 L431.1,576.4 L433.9,534.8 L436.7,507.6 L439.4,486.4 L442.2,448.1 L444.9,385.9 L447.7,346.7 L450.4,313.9 L453.2,211.2 L456.0,137.1 L458.7,110.7 L461.5,109.9 L464.2,110.2 L467.0,130.2 L469.7,191.7 L472.5,256.8 L475.3,329.9 L478.0,395.5 L480.8,429.3 L483.5,455.5 L486.3,479.0 L489.0,503.2 L491.8,547.5 L494.6,571.9 L497.3,590.4 L500.1,604.6 L502.8,616.2 L505.6,628.1 L508.3,638.1 L511.1,646.2 L513.9,653.5 L516.6,659.6 L519.4,664.1 L522.1,666.0 L524.9,662.3 L527.6,653.4 L530.4,645.9 L533.1,637.1 L535.9,633.3 L538.7,632.1 L541.4,631.0 L544.2,631.5 L546.9,632.9 L549.7,633.3 L552.4,633.7 L555.2,635.4 L558.0,634.8 L560.7,635.3 L563.5,636.5 L566.2,636.5 L569.0,636.6 L571.7,636.7 L574.5,636.6 L577.3,636.4 L580.0,635.6 L582.8,635.2 L585.5,633.8 L588.3,632.3 L591.0,631.4 L593.8,630.0 L596.6,628.2 L599.3,628.2 L602.1,624.4 L604.8,620.1 L607.6,616.9 L610.3,613.0 L613.1,606.9 L615.9,604.7 L618.6,603.7 L621.4,606.7 L624.1,610.9 L626.9,617.6 L629.6,623.1 L632.4,627.7 L635.2,632.0 L637.9,636.1 L640.7,637.3 L643.4,638.4 L646.2,639.5 L648.9,640.8 L651.7,641.3 L654.5,642.1 L657.2,641.9 L660.0,642.4 L662.7,642.9 L665.5,643.1 L668.2,642.6 L671.0,643.7 L673.8,644.8 L676.5,644.3 L679.3,645.1 L682.0,645.2 L684.8,646.3 L687.5,645.6 L690.3,646.4 L693.1,646.9 L695.8,646.4 L698.6,645.8 L701.3,646.6 L704.1,646.8 L706.8,646.8 L709.6,647.6 L712.4,647.3 L715.1,648.1 L717.9,647.8 L720.6,647.2 L723.4,647.6 L726.1,647.8 L728.9,647.4 L731.7,647.1 L734.4,647.2 L737.2,648.2 L739.9,647.5 L742.7,646.8 L745.4,645.8 L748.2,644.1 L751.0,642.5 L753.7,639.3 L756.5,636.6 L759.2,632.3 L762.0,627.3 L764.7,619.2 L767.5,606.1 L770.3,568.1 L773.0,529.4 L775.8,503.0 L778.5,481.0 L781.3,439.9 L784.0,378.5 L786.8,341.3 L789.6,304.2 L792.3,189.8 L795.1,127.4 L797.8,107.9 L800.6,107.0 L803.3,107.1 L806.1,130.7 L808.8,189.0 L811.6,248.6 L814.4,317.8 L817.1,377.2 L819.9,417.5 L822.6,444.9 L825.4,465.7 L828.1,484.8 L830.9,520.1 L833.7,548.4 L836.4,567.0 L839.2,581.7 L841.9,591.1 L844.7,599.6 L847.4,607.9 L850.2,615.1 L853.0,622.0 L855.7,632.0 L858.5,641.0 L861.2,657.0 L864.0,675.4 L866.7,692.3 L869.5,707.1 L872.3,721.5 L875.0,729.6 L877.8,738.1 L880.5,743.6 L883.3,749.2 L886.0,754.7 L888.8,758.6 L891.6,761.2 L894.3,766.4 L897.1,766.1 L899.8,771.7 L902.6,774.0 L905.3,772.2 L908.1,777.1 L910.9,783.3 L913.6,777.9 L916.4,787.4 L919.1,794.3 L921.9,786.1 L924.6,794.6 L927.4,786.2 L930.2,785.4 L932.9,794.2 L935.7,788.9 L938.4,790.5 L941.2,790.4 L943.9,796.5 L946.7,791.8 L949.5,794.4 L952.2,788.6 L955.0,798.2 L957.7,795.2 L960.5,795.2 L963.2,783.7 L966.0,793.7 L968.8,796.4 L971.5,798.8 L974.3,784.5 L977.0,796.5 L979.8,795.1 L982.5,797.9 L985.3,791.4 L988.1,797.9 L990.8,805.1 L993.6,789.5 L996.3,806.0 L999.1,799.3 L1001.8,800.1 L1004.6,801.6 L1007.4,801.4 L1010.1,800.2 L1012.9,801.8 L1015.6,806.1 L1018.4,787.7 L1021.1,806.4 L1023.9,796.9 L1026.7,797.4 L1029.4,800.6 L1032.2,802.7 L1034.9,800.2 L1037.7,793.2 L1040.4,800.5 L1043.2,806.5 L1046.0,806.4 L1048.7,791.6 L1051.5,812.1 L1054.2,804.3 L1057.0,804.5 L1059.7,806.1 L1062.5,801.3 L1065.3,806.3 L1068.0,805.6"/>
<path class="cv" stroke="#666666" d="M100.3,800.1 L103.1,795.2 L105.8,791.7 L108.6,799.5 L111.3,793.9 L114.1,796.1 L116.8,796.5 L119.6,797.5 L122.4,800.5 L125.1,791.7 L127.9,794.3 L130.6,800.7 L133.4,791.7 L136.1,797.9 L138.9,800.5 L141.7,800.2 L144.4,798.4 L147.2,794.3 L149.9,797.7 L152.7,794.4 L155.4,797.0 L158.2,787.6 L161.0,790.7 L163.7,797.2 L166.5,801.5 L169.2,797.4 L172.0,802.1 L174.7,798.3 L177.5,808.2 L180.3,801.1 L183.0,803.2 L185.8,793.2 L188.5,806.0 L191.3,799.8 L194.0,800.1 L196.8,796.8 L199.6,800.3 L202.3,797.3 L205.1,804.6 L207.8,802.5 L210.6,799.1 L213.3,796.0 L216.1,794.5 L218.9,796.7 L221.6,804.0 L224.4,796.7 L227.1,791.0 L229.9,799.0 L232.6,792.4 L235.4,791.3 L238.2,796.2 L240.9,793.6 L243.7,797.8 L246.4,795.0 L249.2,793.1 L251.9,799.8 L254.7,795.4 L257.4,797.2 L260.2,804.1 L263.0,798.4 L265.7,801.8 L268.5,795.4 L271.2,799.9 L274.0,799.1 L276.7,803.7 L279.5,794.7 L282.3,800.1 L285.0,788.6 L287.8,794.1 L290.5,793.5 L293.3,799.5 L296.0,793.7 L298.8,800.1 L301.6,799.0 L304.3,766.6 L307.1,751.8 L309.8,738.9 L312.6,726.5 L315.3,717.1 L318.1,711.6 L320.9,707.1 L323.6,704.3 L326.4,704.9 L329.1,705.6 L331.9,706.2 L334.6,706.3 L337.4,707.9 L340.2,707.2 L342.9,707.4 L345.7,706.5 L348.4,706.9 L351.2,706.2 L353.9,706.8 L356.7,706.9 L359.5,705.4 L362.2,705.5 L365.0,705.6 L367.7,705.5 L370.5,704.7 L373.2,704.4 L376.0,704.3 L378.8,703.0 L381.5,702.2 L384.3,701.1 L387.0,700.7 L389.8,700.4 L392.5,699.6 L395.3,697.9 L398.1,697.0 L400.8,696.3 L403.6,694.9 L406.3,692.7 L409.1,690.7 L411.8,687.0 L414.6,682.5 L417.4,677.0 L420.1,669.8 L422.9,664.0 L425.6,654.9 L428.4,644.5 L431.1,628.9 L433.9,596.6 L436.7,548.5 L439.4,518.5 L442.2,493.0 L444.9,468.0 L447.7,401.6 L450.4,360.0 L453.2,326.8 L456.0,254.8 L458.7,158.5 L461.5,117.2 L464.2,109.9 L467.0,110.4 L469.7,116.6 L472.5,168.5 L475.3,227.9 L478.0,303.2 L480.8,371.0 L483.5,418.8 L486.3,447.5 L489.0,470.7 L491.8,490.8 L494.6,537.0 L497.3,562.9 L500.1,583.9 L502.8,598.9 L505.6,612.6 L508.3,623.5 L511.1,633.3 L513.9,642.7 L516.6,650.1 L519.4,656.6 L522.1,659.2 L524.9,657.2 L527.6,651.7 L530.4,642.4 L533.1,635.9 L535.9,631.7 L538.7,631.3 L541.4,630.1 L544.2,629.2 L546.9,631.5 L549.7,633.4 L552.4,633.7 L555.2,634.6 L558.0,635.1 L560.7,634.7 L563.5,635.6 L566.2,635.9 L569.0,636.9 L571.7,637.0 L574.5,636.4 L577.3,636.3 L580.0,637.0 L582.8,634.9 L585.5,636.1 L588.3,632.8 L591.0,632.1 L593.8,631.6 L596.6,629.3 L599.3,629.0 L602.1,627.8 L604.8,623.8 L607.6,619.7 L610.3,616.8 L613.1,611.0 L615.9,607.3 L618.6,604.1 L621.4,605.2 L624.1,608.6 L626.9,613.7 L629.6,620.6 L632.4,625.3 L635.2,629.1 L637.9,633.0 L640.7,636.8 L643.4,637.2 L646.2,638.8 L648.9,640.0 L651.7,640.0 L654.5,640.3 L657.2,641.6 L660.0,641.0 L662.7,642.5 L665.5,641.8 L668.2,642.7 L671.0,643.3 L673.8,643.2 L676.5,644.0 L679.3,644.9 L682.0,644.1 L684.8,645.4 L687.5,644.9 L690.3,645.3 L693.1,644.9 L695.8,645.3 L698.6,646.8 L701.3,645.7 L704.1,646.0 L706.8,646.2 L709.6,645.2 L712.4,646.1 L715.1,647.0 L717.9,646.5 L720.6,647.4 L723.4,645.4 L726.1,645.8 L728.9,646.0 L731.7,646.3 L734.4,646.5 L737.2,646.0 L739.9,646.2 L742.7,645.8 L745.4,646.4 L748.2,644.5 L751.0,642.5 L753.7,641.1 L756.5,638.0 L759.2,634.7 L762.0,631.6 L764.7,624.2 L767.5,616.4 L770.3,601.6 L773.0,555.9 L775.8,522.8 L778.5,495.5 L781.3,476.2 L784.0,417.7 L786.8,366.7 L789.6,332.8 L792.3,281.8 L795.1,167.7 L797.8,117.2 L800.6,107.2 L803.3,106.3 L806.1,110.4 L808.8,144.9 L811.6,203.1 L814.4,266.7 L817.1,334.0 L819.9,393.3 L822.6,424.7 L825.4,450.1 L828.1,470.9 L830.9,489.9 L833.7,532.0 L836.4,553.7 L839.2,570.9 L841.9,584.9 L844.7,593.6 L847.4,602.0 L850.2,611.0 L853.0,617.7 L855.7,628.5 L858.5,637.6 L861.2,654.3 L864.0,671.8 L866.7,688.0 L869.5,703.0 L872.3,717.9 L875.0,726.2 L877.8,734.6 L880.5,741.2 L883.3,745.9 L886.0,750.9 L888.8,755.8 L891.6,758.0 L894.3,765.1 L897.1,770.0 L899.8,767.9 L902.6,776.9 L905.3,777.3 L908.1,776.7 L910.9,779.5 L913.6,781.2 L916.4,785.4 L919.1,789.1 L921.9,794.6 L924.6,796.4 L927.4,779.7 L930.2,783.9 L932.9,787.5 L935.7,791.2 L938.4,794.9 L941.2,791.2 L943.9,801.4 L946.7,788.3 L949.5,798.1 L952.2,795.5 L955.0,798.3 L957.7,794.1 L960.5,795.1 L963.2,791.4 L966.0,790.2 L968.8,798.3 L971.5,800.3 L974.3,806.8 L977.0,793.8 L979.8,798.5 L982.5,803.7 L985.3,801.4 L988.1,800.8 L990.8,792.4 L993.6,802.2 L996.3,801.4 L999.1,798.6 L1001.8,794.9 L1004.6,800.2 L1007.4,799.8 L1010.1,793.0 L1012.9,803.1 L1015.6,799.4 L1018.4,797.4 L1021.1,802.8 L1023.9,803.7 L1026.7,797.1 L1029.4,802.0 L1032.2,794.8 L1034.9,802.5 L1037.7,797.2 L1040.4,802.7 L1043.2,799.2 L1046.0,795.7 L1048.7,800.4 L1051.5,803.9 L1054.2,811.9 L1057.0,798.2 L1059.7,807.3 L1062.5,809.7 L1065.3,804.4 L1068.0,804.2"/>
<path class="cv" stroke="#da70d6" d="M100.3,797.6 L103.1,803.0 L105.8,806.9 L108.6,806.9 L111.3,799.4 L114.1,802.5 L116.8,799.9 L119.6,793.6 L122.4,802.3 L125.1,805.8 L127.9,807.5 L130.6,805.2 L133.4,799.5 L136.1,800.6 L138.9,798.0 L141.7,803.5 L144.4,796.8 L147.2,804.0 L149.9,807.9 L152.7,806.9 L155.4,802.5 L158.2,809.3 L161.0,803.1 L163.7,800.7 L166.5,803.1 L169.2,800.7 L172.0,800.9 L174.7,805.6 L177.5,804.4 L180.3,800.8 L183.0,806.8 L185.8,808.0 L188.5,795.1 L191.3,801.3 L194.0,797.0 L196.8,801.0 L199.6,803.4 L202.3,803.5 L205.1,798.1 L207.8,798.8 L210.6,799.5 L213.3,806.5 L216.1,806.6 L218.9,796.9 L221.6,806.4 L224.4,805.8 L227.1,807.8 L229.9,802.4 L232.6,805.5 L235.4,806.0 L238.2,799.2 L240.9,799.1 L243.7,799.5 L246.4,795.8 L249.2,797.6 L251.9,805.3 L254.7,805.2 L257.4,793.2 L260.2,797.3 L263.0,799.4 L265.7,801.8 L268.5,803.8 L271.2,801.4 L274.0,796.3 L276.7,799.8 L279.5,806.2 L282.3,800.7 L285.0,794.6 L287.8,803.6 L290.5,802.1 L293.3,806.4 L296.0,801.3 L298.8,802.8 L301.6,794.7 L304.3,769.3 L307.1,753.1 L309.8,738.4 L312.6,726.6 L315.3,716.6 L318.1,708.7 L320.9,702.7 L323.6,701.8 L326.4,702.2 L329.1,703.9 L331.9,705.1 L334.6,706.6 L337.4,707.1 L340.2,706.9 L342.9,707.2 L345.7,706.9 L348.4,707.3 L351.2,707.1 L353.9,706.9 L356.7,705.7 L359.5,706.9 L362.2,707.0 L365.0,705.6 L367.7,706.4 L370.5,705.6 L373.2,704.8 L376.0,705.3 L378.8,704.6 L381.5,703.9 L384.3,703.7 L387.0,703.1 L389.8,702.7 L392.5,701.6 L395.3,701.0 L398.1,700.9 L400.8,699.4 L403.6,697.6 L406.3,697.3 L409.1,695.9 L411.8,695.0 L414.6,693.4 L417.4,693.1 L420.1,689.2 L422.9,686.6 L425.6,682.1 L428.4,677.5 L431.1,670.5 L433.9,663.9 L436.7,657.4 L439.4,647.1 L442.2,635.1 L444.9,614.1 L447.7,563.6 L450.4,525.9 L453.2,499.6 L456.0,480.1 L458.7,427.0 L461.5,372.8 L464.2,337.4 L467.0,299.8 L469.7,179.0 L472.5,126.0 L475.3,108.7 L478.0,108.0 L480.8,108.8 L483.5,144.0 L486.3,206.1 L489.0,275.5 L491.8,347.4 L494.6,406.2 L497.3,435.8 L500.1,461.0 L502.8,483.1 L505.6,516.8 L508.3,552.5 L511.1,574.6 L513.9,592.5 L516.6,606.3 L519.4,617.4 L522.1,627.3 L524.9,632.8 L527.6,634.1 L530.4,631.5 L533.1,627.8 L535.9,626.0 L538.7,626.2 L541.4,626.8 L544.2,627.3 L546.9,629.7 L549.7,631.0 L552.4,631.8 L555.2,632.4 L558.0,633.5 L560.7,633.4 L563.5,634.5 L566.2,635.3 L569.0,635.6 L571.7,636.2 L574.5,636.7 L577.3,636.9 L580.0,636.6 L582.8,636.1 L585.5,636.7 L588.3,636.9 L591.0,636.5 L593.8,635.7 L596.6,634.5 L599.3,633.2 L602.1,632.5 L604.8,631.7 L607.6,629.6 L610.3,628.6 L613.1,625.3 L615.9,621.3 L618.6,617.1 L621.4,612.0 L624.1,607.5 L626.9,605.6 L629.6,607.0 L632.4,609.4 L635.2,615.1 L637.9,622.4 L640.7,626.8 L643.4,631.2 L646.2,634.5 L648.9,637.4 L651.7,637.7 L654.5,639.1 L657.2,639.9 L660.0,639.3 L662.7,640.2 L665.5,639.2 L668.2,640.8 L671.0,640.6 L673.8,641.6 L676.5,642.5 L679.3,642.0 L682.0,642.2 L684.8,642.7 L687.5,643.2 L690.3,643.3 L693.1,643.1 L695.8,643.2 L698.6,644.1 L701.3,644.1 L704.1,644.1 L706.8,644.0 L709.6,643.7 L712.4,644.4 L715.1,645.0 L717.9,644.3 L720.6,644.8 L723.4,645.4 L726.1,644.2 L728.9,644.8 L731.7,644.8 L734.4,644.4 L737.2,644.6 L739.9,645.0 L742.7,644.3 L745.4,644.8 L748.2,644.5 L751.0,645.2 L753.7,644.1 L756.5,642.5 L759.2,641.1 L762.0,638.5 L764.7,636.2 L767.5,631.8 L770.3,627.7 L773.0,620.0 L775.8,607.4 L778.5,573.3 L781.3,533.2 L784.0,506.4 L786.8,483.9 L789.6,447.0 L792.3,385.4 L795.1,344.8 L797.8,309.7 L800.6,204.2 L803.3,132.5 L806.1,108.0 L808.8,107.5 L811.6,107.7 L814.4,126.2 L817.1,183.7 L819.9,240.2 L822.6,310.0 L825.4,371.9 L828.1,415.2 L830.9,441.6 L833.7,463.2 L836.4,482.8 L839.2,514.6 L841.9,545.9 L844.7,565.5 L847.4,581.3 L850.2,592.0 L853.0,601.2 L855.7,613.7 L858.5,623.4 L861.2,640.4 L864.0,657.6 L866.7,674.3 L869.5,689.0 L872.3,703.2 L875.0,712.9 L877.8,722.3 L880.5,730.3 L883.3,736.5 L886.0,743.4 L888.8,747.8 L891.6,752.9 L894.3,756.3 L897.1,760.5 L899.8,767.6 L902.6,765.5 L905.3,772.5 L908.1,769.5 L910.9,778.0 L913.6,770.8 L916.4,782.3 L919.1,792.1 L921.9,784.9 L924.6,788.2 L927.4,779.3 L930.2,785.9 L932.9,783.6 L935.7,791.2 L938.4,791.6 L941.2,791.4 L943.9,795.4 L946.7,797.8 L949.5,788.2 L952.2,792.9 L955.0,796.6 L957.7,801.3 L960.5,799.7 L963.2,793.4 L966.0,794.8 L968.8,796.5 L971.5,793.8 L974.3,789.6 L977.0,804.3 L979.8,794.6 L982.5,799.9 L985.3,799.1 L988.1,801.3 L990.8,799.7 L993.6,798.3 L996.3,791.9 L999.1,797.2 L1001.8,801.1 L1004.6,796.0 L1007.4,794.0 L1010.1,793.2 L1012.9,796.9 L1015.6,801.0 L1018.4,807.0 L1021.1,804.5 L1023.9,811.1 L1026.7,806.7 L1029.4,799.4 L1032.2,807.7 L1034.9,810.9 L1037.7,806.9 L1040.4,803.1 L1043.2,790.0 L1046.0,802.0 L1048.7,802.9 L1051.5,803.1 L1054.2,807.0 L1057.0,808.2 L1059.7,805.0 L1062.5,803.4 L1065.3,802.1 L1068.0,800.7"/>
<path class="cv" stroke="#adff2f" d="M100.3,800.2 L103.1,811.5 L105.8,796.9 L108.6,803.6 L111.3,804.1 L114.1,805.2 L116.8,802.1 L119.6,800.6 L122.4,800.2 L125.1,797.3 L127.9,800.2 L130.6,799.4 L133.4,804.4 L136.1,800.4 L138.9,803.0 L141.7,793.2 L144.4,799.2 L147.2,800.6 L149.9,800.1 L152.7,801.9 L155.4,808.4 L158.2,806.7 L161.0,798.6 L163.7,804.2 L166.5,801.7 L169.2,802.6 L172.0,807.2 L174.7,801.0 L177.5,803.4 L180.3,796.8 L183.0,797.6 L185.8,805.9 L188.5,805.0 L191.3,798.0 L194.0,801.5 L196.8,795.8 L199.6,799.0 L202.3,801.7 L205.1,800.3 L207.8,800.0 L210.6,796.9 L213.3,800.9 L216.1,799.7 L218.9,801.1 L221.6,799.8 L224.4,794.4 L227.1,798.9 L229.9,799.6 L232.6,797.4 L235.4,798.5 L238.2,805.6 L240.9,792.2 L243.7,801.7 L246.4,804.7 L249.2,803.4 L251.9,798.0 L254.7,798.2 L257.4,801.1 L260.2,797.6 L263.0,800.6 L265.7,801.8 L268.5,802.3 L271.2,804.9 L274.0,797.8 L276.7,799.4 L279.5,798.7 L282.3,794.7 L285.0,799.4 L287.8,800.3 L290.5,800.2 L293.3,793.4 L296.0,798.5 L298.8,796.1 L301.6,781.7 L304.3,762.7 L307.1,741.1 L309.8,725.0 L312.6,709.3 L315.3,695.4 L318.1,684.0 L320.9,681.4 L323.6,682.3 L326.4,685.9 L329.1,689.3 L331.9,692.7 L334.6,697.1 L337.4,700.6 L340.2,704.0 L342.9,704.6 L345.7,707.4 L348.4,706.8 L351.2,707.4 L353.9,707.3 L356.7,708.5 L359.5,707.4 L362.2,707.7 L365.0,707.7 L367.7,708.2 L370.5,707.3 L373.2,707.0 L376.0,706.8 L378.8,706.5 L381.5,707.7 L384.3,706.7 L387.0,706.0 L389.8,706.2 L392.5,705.1 L395.3,705.3 L398.1,704.8 L400.8,704.1 L403.6,704.0 L406.3,702.7 L409.1,701.3 L411.8,701.9 L414.6,700.5 L417.4,699.6 L420.1,698.9 L422.9,698.0 L425.6,697.1 L428.4,695.2 L431.1,693.6 L433.9,692.6 L436.7,690.8 L439.4,687.5 L442.2,683.4 L444.9,678.2 L447.7,674.2 L450.4,667.7 L453.2,660.1 L456.0,651.3 L458.7,640.5 L461.5,623.4 L464.2,579.8 L467.0,537.2 L469.7,510.2 L472.5,487.3 L475.3,453.5 L478.0,388.9 L480.8,351.1 L483.5,318.4 L486.3,223.1 L489.0,141.6 L491.8,111.8 L494.6,109.2 L497.3,109.9 L500.1,122.9 L502.8,184.3 L505.6,247.1 L508.3,322.3 L511.1,387.1 L513.9,424.7 L516.6,452.4 L519.4,476.4 L522.1,495.6 L524.9,542.0 L527.6,564.9 L530.4,580.1 L533.1,590.1 L535.9,596.8 L538.7,602.4 L541.4,609.4 L544.2,613.9 L546.9,619.0 L549.7,623.1 L552.4,625.7 L555.2,626.7 L558.0,629.3 L560.7,630.8 L563.5,632.6 L566.2,632.7 L569.0,633.4 L571.7,634.5 L574.5,635.3 L577.3,635.2 L580.0,635.5 L582.8,637.2 L585.5,638.1 L588.3,638.3 L591.0,636.7 L593.8,637.3 L596.6,637.3 L599.3,636.6 L602.1,636.6 L604.8,636.3 L607.6,633.7 L610.3,633.1 L613.1,632.3 L615.9,630.7 L618.6,628.9 L621.4,625.8 L624.1,622.2 L626.9,619.6 L629.6,613.7 L632.4,608.8 L635.2,607.6 L637.9,608.4 L640.7,610.8 L643.4,617.7 L646.2,623.7 L648.9,627.3 L651.7,632.0 L654.5,635.6 L657.2,638.4 L660.0,639.2 L662.7,639.5 L665.5,639.4 L668.2,638.9 L671.0,639.2 L673.8,639.4 L676.5,639.0 L679.3,639.4 L682.0,640.3 L684.8,639.8 L687.5,641.1 L690.3,640.9 L693.1,641.2 L695.8,641.2 L698.6,642.2 L701.3,642.8 L704.1,641.6 L706.8,641.9 L709.6,642.1 L712.4,642.6 L715.1,641.3 L717.9,642.3 L720.6,643.6 L723.4,643.2 L726.1,642.7 L728.9,642.5 L731.7,642.6 L734.4,643.0 L737.2,643.4 L739.9,642.2 L742.7,641.7 L745.4,643.1 L748.2,643.6 L751.0,644.6 L753.7,643.9 L756.5,643.7 L759.2,643.9 L762.0,642.5 L764.7,642.0 L767.5,640.6 L770.3,638.0 L773.0,634.8 L775.8,631.5 L778.5,625.9 L781.3,618.1 L784.0,606.1 L786.8,568.3 L789.6,530.8 L792.3,504.3 L795.1,481.7 L797.8,439.9 L800.6,379.7 L803.3,342.2 L806.1,305.1 L808.8,188.4 L811.6,127.9 L814.4,110.1 L817.1,108.5 L819.9,108.1 L822.6,132.6 L825.4,190.5 L828.1,250.6 L830.9,319.4 L833.7,380.4 L836.4,418.5 L839.2,445.7 L841.9,466.1 L844.7,486.5 L847.4,521.5 L850.2,549.6 L853.0,568.8 L855.7,586.9 L858.5,599.4 L861.2,615.2 L864.0,631.2 L866.7,647.7 L869.5,663.1 L872.3,678.2 L875.0,691.1 L877.8,702.8 L880.5,713.6 L883.3,722.1 L886.0,730.5 L888.8,737.3 L891.6,743.5 L894.3,749.3 L897.1,754.3 L899.8,755.6 L902.6,758.9 L905.3,758.4 L908.1,763.3 L910.9,766.7 L913.6,767.9 L916.4,780.8 L919.1,771.9 L921.9,776.9 L924.6,779.7 L927.4,780.5 L930.2,780.1 L932.9,785.5 L935.7,787.7 L938.4,787.0 L941.2,788.6 L943.9,793.0 L946.7,799.2 L949.5,800.0 L952.2,789.2 L955.0,797.8 L957.7,790.4 L960.5,794.0 L963.2,788.3 L966.0,792.4 L968.8,790.5 L971.5,802.2 L974.3,800.0 L977.0,798.9 L979.8,800.9 L982.5,803.4 L985.3,800.2 L988.1,797.2 L990.8,805.7 L993.6,797.7 L996.3,799.2 L999.1,794.5 L1001.8,801.4 L1004.6,798.2 L1007.4,790.6 L1010.1,797.8 L1012.9,790.4 L1015.6,800.4 L1018.4,797.8 L1021.1,802.9 L1023.9,801.8 L1026.7,807.6 L1029.4,799.0 L1032.2,806.3 L1034.9,799.1 L1037.7,807.6 L1040.4,800.4 L1043.2,795.5 L1046.0,807.6 L1048.7,803.0 L1051.5,810.1 L1054.2,804.3 L1057.0,802.9 L1059.7,809.3 L1062.5,805.3 L1065.3,798.0 L1068.0,796.0"/>
</g>
<rect x="100.3" y="67.5" width="964.8" height="808.8" fill="none" stroke="#2a2a2a" stroke-width="1.3"/>
<line x1="95.7" y1="79.5" x2="100.3" y2="79.5" stroke="#2a2a2a" stroke-width="1.3"/>
<text class="tk" transform="translate(90.0,91.4) scale(1,1.05)" text-anchor="end">0</text>
<line x1="95.7" y1="188.0" x2="100.3" y2="188.0" stroke="#2a2a2a" stroke-width="1.3"/>
<text class="tk" transform="translate(90.0,199.9) scale(1,1.05)" text-anchor="end">−10</text>
<line x1="95.7" y1="296.5" x2="100.3" y2="296.5" stroke="#2a2a2a" stroke-width="1.3"/>
<text class="tk" transform="translate(90.0,308.4) scale(1,1.05)" text-anchor="end">−20</text>
<line x1="95.7" y1="405.0" x2="100.3" y2="405.0" stroke="#2a2a2a" stroke-width="1.3"/>
<text class="tk" transform="translate(90.0,416.9) scale(1,1.05)" text-anchor="end">−30</text>
<line x1="95.7" y1="513.5" x2="100.3" y2="513.5" stroke="#2a2a2a" stroke-width="1.3"/>
<text class="tk" transform="translate(90.0,525.4) scale(1,1.05)" text-anchor="end">−40</text>
<line x1="95.7" y1="622.0" x2="100.3" y2="622.0" stroke="#2a2a2a" stroke-width="1.3"/>
<text class="tk" transform="translate(90.0,633.9) scale(1,1.05)" text-anchor="end">−50</text>
<line x1="95.7" y1="730.4" x2="100.3" y2="730.4" stroke="#2a2a2a" stroke-width="1.3"/>
<text class="tk" transform="translate(90.0,742.3) scale(1,1.05)" text-anchor="end">−60</text>
<line x1="95.7" y1="838.9" x2="100.3" y2="838.9" stroke="#2a2a2a" stroke-width="1.3"/>
<text class="tk" transform="translate(90.0,850.8) scale(1,1.05)" text-anchor="end">−70</text>
<line x1="100.3" y1="876.3" x2="100.3" y2="880.9" stroke="#2a2a2a" stroke-width="1.3"/>
<text class="tk" transform="translate(100.6,910.0) scale(1,1.05)" text-anchor="middle">1548</text>
<line x1="238.1" y1="876.3" x2="238.1" y2="880.9" stroke="#2a2a2a" stroke-width="1.3"/>
<text class="tk" transform="translate(238.4,910.0) scale(1,1.05)" text-anchor="middle">1549</text>
<line x1="376.0" y1="876.3" x2="376.0" y2="880.9" stroke="#2a2a2a" stroke-width="1.3"/>
<text class="tk" transform="translate(376.3,910.0) scale(1,1.05)" text-anchor="middle">1550</text>
<line x1="513.8" y1="876.3" x2="513.8" y2="880.9" stroke="#2a2a2a" stroke-width="1.3"/>
<text class="tk" transform="translate(514.1,910.0) scale(1,1.05)" text-anchor="middle">1551</text>
<line x1="651.6" y1="876.3" x2="651.6" y2="880.9" stroke="#2a2a2a" stroke-width="1.3"/>
<text class="tk" transform="translate(651.9,910.0) scale(1,1.05)" text-anchor="middle">1552</text>
<line x1="789.5" y1="876.3" x2="789.5" y2="880.9" stroke="#2a2a2a" stroke-width="1.3"/>
<text class="tk" transform="translate(789.8,910.0) scale(1,1.05)" text-anchor="middle">1553</text>
<line x1="927.3" y1="876.3" x2="927.3" y2="880.9" stroke="#2a2a2a" stroke-width="1.3"/>
<text class="tk" transform="translate(927.6,910.0) scale(1,1.05)" text-anchor="middle">1554</text>
<line x1="1065.1" y1="876.3" x2="1065.1" y2="880.9" stroke="#2a2a2a" stroke-width="1.3"/>
<text class="tk" transform="translate(1065.4,910.0) scale(1,1.05)" text-anchor="middle">1555</text>
<text class="al" x="583.3" y="945.1" text-anchor="middle">Wavelength (nm)</text>
<text class="al" transform="translate(24.5,472) rotate(-90)" text-anchor="middle">Intensity (dBm)</text>
<rect x="117.4" y="84.4" width="239.6" height="495.2" rx="5" ry="5" fill="#ffffff" fill-opacity="0.8" stroke="#cccccc" stroke-width="1.2"/>
<line x1="129.9" y1="109.9" x2="200.7" y2="109.9" stroke="#ff7200" stroke-width="2.2"/>
<text class="lg" x="227.6" y="121.5">331GHz</text>
<line x1="129.9" y1="158.5" x2="200.7" y2="158.5" stroke="#2a8a2a" stroke-width="2.2"/>
<text class="lg" x="227.6" y="170.1">323GHz</text>
<line x1="129.9" y1="207.2" x2="200.7" y2="207.2" stroke="#d2242c" stroke-width="2.2"/>
<text class="lg" x="227.6" y="218.8">316GHz</text>
<line x1="129.9" y1="255.8" x2="200.7" y2="255.8" stroke="#6a5cf0" stroke-width="2.2"/>
<text class="lg" x="227.6" y="267.4">311GHz</text>
<line x1="129.9" y1="304.4" x2="200.7" y2="304.4" stroke="#3d3780" stroke-width="2.2"/>
<text class="lg" x="227.6" y="316.0">307GHz</text>
<line x1="129.9" y1="353.1" x2="200.7" y2="353.1" stroke="#9400d3" stroke-width="2.2"/>
<text class="lg" x="227.6" y="364.7">305GHz</text>
<line x1="129.9" y1="401.7" x2="200.7" y2="401.7" stroke="#00f29c" stroke-width="2.2"/>
<text class="lg" x="227.6" y="413.3">303GHz</text>
<line x1="129.9" y1="450.3" x2="200.7" y2="450.3" stroke="#666666" stroke-width="2.2"/>
<text class="lg" x="227.6" y="461.9">296GHz</text>
<line x1="129.9" y1="498.9" x2="200.7" y2="498.9" stroke="#da70d6" stroke-width="2.2"/>
<text class="lg" x="227.6" y="510.5">293GHz</text>
<line x1="129.9" y1="547.6" x2="200.7" y2="547.6" stroke="#adff2f" stroke-width="2.2"/>
<text class="lg" x="227.6" y="559.2">288GHz</text>
<ellipse cx="450.8" cy="123.3" rx="118.9" ry="25.2" fill="none" stroke="#ff0000" stroke-width="4.5"/>
<ellipse cx="789.8" cy="116.1" rx="52.8" ry="24.95" fill="none" stroke="#ff0000" stroke-width="4.5"/>
<line x1="326.2" y1="54.6" x2="368.6" y2="95.5" stroke="#ff0000" stroke-width="3.3"/><polygon points="375.1,101.8 362.7,98.8 371.6,89.6" fill="#ff0000"/>
<line x1="861.8" y1="37.0" x2="829.0" y2="74.9" stroke="#ff0000" stroke-width="3.3"/><polygon points="823.1,81.7 825.5,69.2 835.1,77.6" fill="#ff0000"/>
<text class="an" x="130.5" y="27.3">Controlled by electric current</text>
<text class="an" style="font-size:36.5px" x="666.0" y="30.6">Affected by LD1</text>
<text class="rd" x="420.6" y="725.4">LD1</text>
<text class="rd" x="782.8" y="702.1">LD2</text>
</svg></body></html>
